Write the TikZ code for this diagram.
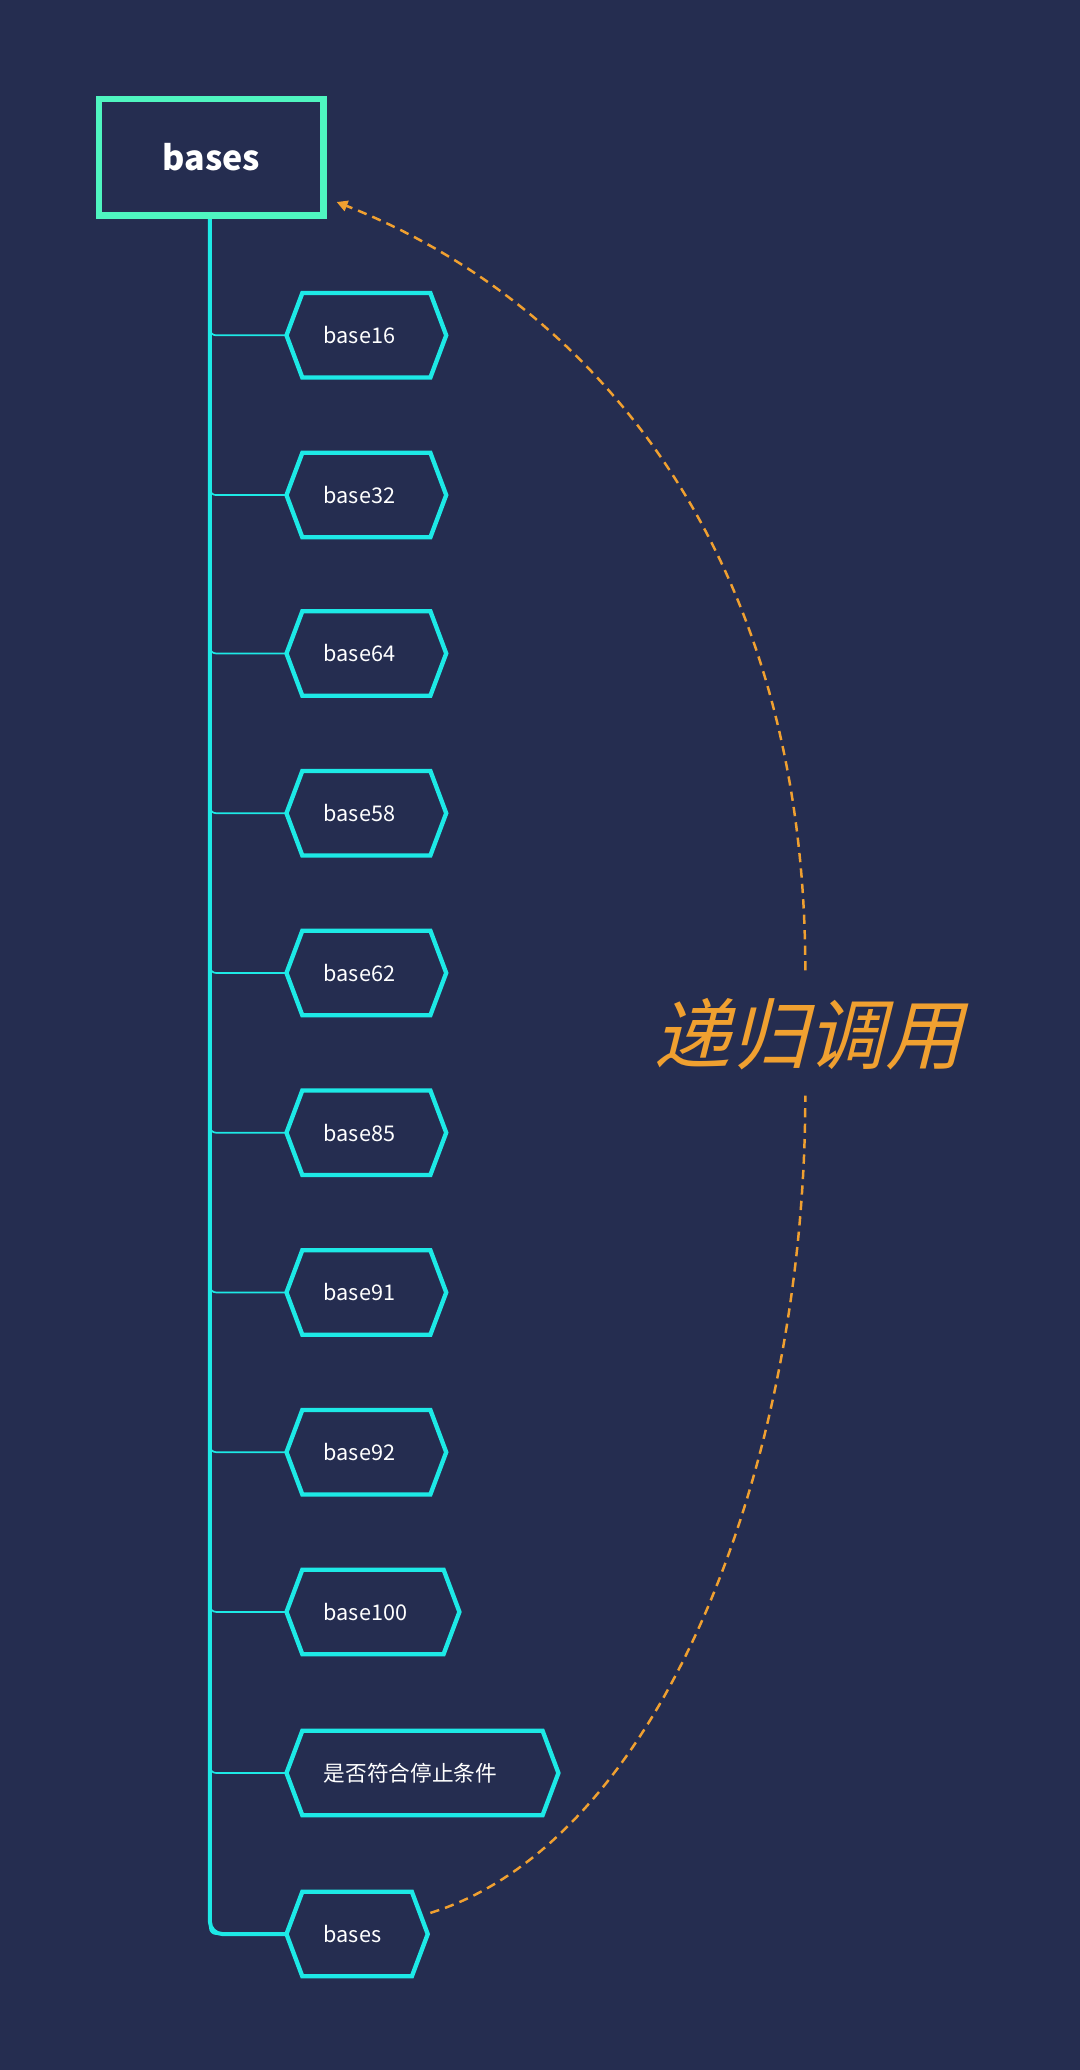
\documentclass[tikz,border=0pt]{standalone}
\usepackage{fontspec}
\setmainfont{Noto Sans CJK SC}
\newfontfamily\slantcjk[FakeSlant=0.25]{Noto Sans CJK SC}
\usetikzlibrary{arrows.meta}
\definecolor{bg}{HTML}{252D50}
\definecolor{cy}{HTML}{1DE9E6}
\definecolor{rootc}{HTML}{4FF5C0}
\definecolor{orng}{HTML}{F0A030}
\tikzset{hexline/.style={draw=cy,line width=2.8pt,line join=miter},
 lbl/.style={text=white,font=\fontsize{14}{16}\selectfont,inner sep=0pt},
 branch/.style={draw=cy,line width=1.1pt,rounded corners=4pt},
 rec/.style={draw=orng,line width=1.6pt,dash pattern=on 6pt off 4pt}}
\newcommand{\hexnode}[4]{%
 \draw[hexline] (217,#2) -- (229,#2-32) -- (#3-12,#2-32) -- (#3,#2) -- (#3-12,#2+32) -- (229,#2+32) -- cycle;
 \coordinate (#1L) at (217,#2);
 \node[lbl,anchor=west] (#1) at (245,#2) {#4};
 \draw[branch] (159,#2-14) |- (#1L);}
\begin{document}
\begin{tikzpicture}[x=0.03cm,y=-0.03cm]
\fill[bg] (0,0) rectangle (818,1568);
\useasboundingbox (0,0) rectangle (818,1568);
\draw[cy,line width=2.6pt,rounded corners=8pt] (159,165) -- (159,1465) -- (217,1465);
\node[draw=rootc,line width=4.3pt,minimum width=170*0.03cm,minimum height=88*0.03cm,text=white,font=\bfseries\fontsize{22}{24}\selectfont] (root) at (160,119) {bases};
\hexnode{a}{254}{338}{base16}
\hexnode{b}{375}{338}{base32}
\hexnode{c}{495}{338}{base64}
\hexnode{d}{616}{338}{base58}
\hexnode{e}{737}{338}{base62}
\hexnode{f}{858}{338}{base85}
\hexnode{g}{979}{338}{base91}
\hexnode{h}{1100}{338}{base92}
\hexnode{i}{1221}{348}{base100}
\hexnode{j}{1343}{423}{是否符合停止条件}
\hexnode{k}{1465}{324}{bases}
\node[text=orng,font=\slantcjk\fontsize{50}{54}\selectfont] (rc) at (612,783) {递归调用};
\coordinate (kR) at (326,1449);
\coordinate (rcB) at (610,830);
\coordinate (rcT) at (610,735);
\coordinate (rootR) at (255,153);
\draw[rec] (kR) .. controls (500,1395) and (610,1110) .. (rcB);
\draw[rec,-{Triangle[length=7pt,width=7pt]}] (rcT) .. controls (610,420) and (450,230) .. (rootR);
\end{tikzpicture}
\end{document}
